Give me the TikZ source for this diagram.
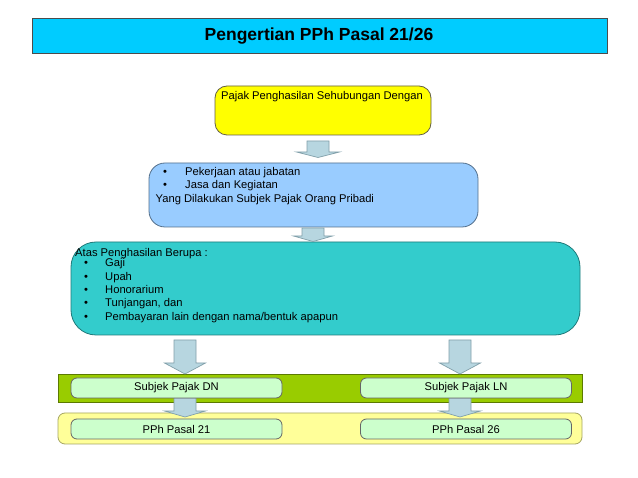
\documentclass[tikz,border=0pt]{standalone}
\usepackage{fontspec}
\setmainfont{Liberation Sans}
\definecolor{titlecyan}{RGB}{0,204,255}
\definecolor{boxyellow}{RGB}{255,255,0}
\definecolor{boxblue}{RGB}{153,204,255}
\definecolor{boxteal}{RGB}{51,204,204}
\definecolor{bandgreen}{RGB}{153,204,0}
\definecolor{bandyellow}{RGB}{255,255,153}
\definecolor{innergreen}{RGB}{204,255,204}
\definecolor{arrowfill}{RGB}{183,214,224}
\definecolor{arrowline}{RGB}{130,160,170}
\newcommand{\blockarr}[5]{%
  \draw[barrow] (#1-11,#2) -- (#1+11,#2) -- (#1+11,#3) -- (#1+#5,#3) -- (#1,#4)
    -- (#1-#5,#3) -- (#1-11,#3) -- cycle;}
\begin{document}
\begin{tikzpicture}[x=1pt,y=-1pt,
  box/.style={inner sep=0pt, line width=0.8pt},
  txt/.style={inner sep=0pt, anchor=base west, font=\fontsize{11.2}{13}\selectfont},
  ctxt/.style={inner sep=0pt, font=\fontsize{11.2}{13}\selectfont},
  barrow/.style={fill=arrowfill, draw=arrowline, line width=0.7pt},
  inner/.style={box, draw=black!60, fill=innergreen, rounded corners=6pt,
    minimum width=211pt, minimum height=20pt, font=\fontsize{11.2}{13}\selectfont}]
\useasboundingbox (0,0) rectangle (638,478);
\fill[white] (0,0) rectangle (638,478);
% title
\node[box, draw=black!70, fill=titlecyan, minimum width=575pt, minimum height=35pt]
  (title) at (319.5,35.5) {};
\node[inner sep=0pt, font=\bfseries\fontsize{17.5}{20}\selectfont] (titletext) at (319,36.5)
  {Pengertian PPh Pasal 21/26};
% yellow box
\node[box, draw=black!70!yellow, fill=boxyellow, rounded corners=12pt,
  minimum width=216pt, minimum height=49pt] (yel) at (323,110.5) {};
\node[txt, anchor=base] (yeltext) at (322,99.3) {Pajak Penghasilan Sehubungan Dengan};
% blue box
\node[box, draw=black!45!boxblue, fill=boxblue, rounded corners=16pt,
  minimum width=329pt, minimum height=64pt] (blue) at (313.5,195) {};
\node[txt] (b1) at (163,175.7) {•};
\node[txt] (b1t) at (185,175.7) {Pekerjaan atau jabatan};
\node[txt] (b2) at (163,189) {•};
\node[txt] (b2t) at (185,189) {Jasa dan Kegiatan};
\node[txt] (b3t) at (155.5,202.3) {Yang Dilakukan Subjek Pajak Orang Pribadi};
% teal box
\node[box, draw=black!40!boxteal, fill=boxteal, rounded corners=25pt,
  minimum width=509pt, minimum height=93pt] (teal) at (325.5,288.5) {};
\node[txt] (t0) at (75,256.5) {Atas Penghasilan Berupa :};
\foreach \y/\t [count=\i] in {266.7/Gaji,280.2/Upah,293.6/Honorarium,307/{Tunjangan, dan},320.2/{Pembayaran lain dengan nama/bentuk apapun}}{
  \node[txt] (tb\i) at (84,\y) {•};
  \node[txt] (tt\i) at (105,\y) {\t};
}
% bands
\node[box, draw=black!40!bandgreen, fill=bandgreen, minimum width=524pt, minimum height=28pt]
  (green) at (320,388) {};
\node[box, draw=black!35!bandyellow, fill=bandyellow, rounded corners=7pt,
  minimum width=524pt, minimum height=31pt] (ylband) at (320,428.5) {};
% arrows
\blockarr{318}{141}{152}{157.5}{21.5}
\blockarr{313}{228}{236}{241.5}{19.5}
\blockarr{185}{340}{363}{374}{20.5}
\blockarr{460}{340}{363}{374}{20.5}
\blockarr{185}{398}{411}{417}{20.5}
\blockarr{460}{398}{411}{417}{20.5}
% inner boxes
\node[inner] (dn) at (176.5,388) {Subjek Pajak DN};
\node[inner] (ln) at (466,388) {Subjek Pajak LN};
\node[inner] (p21) at (176.5,429) {PPh Pasal 21};
\node[inner] (p26) at (466,429) {PPh Pasal 26};
\end{tikzpicture}
\end{document}
